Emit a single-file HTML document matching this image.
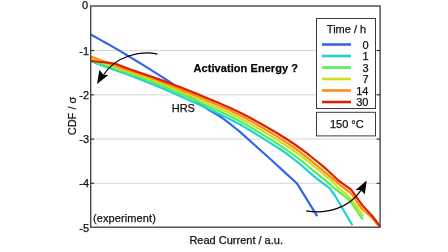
<!DOCTYPE html>
<html><head><meta charset="utf-8"><title>CDF</title>
<style>
html,body{margin:0;padding:0;background:#fff;width:448px;height:252px;overflow:hidden}
svg text{font-family:"Liberation Sans",sans-serif;fill:#111;stroke:#111;stroke-width:0.25px}
.t{font-size:11px}
.b{font-size:11px;font-weight:bold;fill:#000}
</style></head><body>
<svg width="448" height="252" viewBox="0 0 448 252" style="position:absolute;left:0;top:0">
<rect width="448" height="252" fill="#fff"/>
<line x1="90.7" y1="50.59" x2="380.1" y2="50.59" stroke="#d6d6d6" stroke-width="1"/>
<line x1="90.7" y1="94.83" x2="380.1" y2="94.83" stroke="#d6d6d6" stroke-width="1"/>
<line x1="90.7" y1="139.07" x2="380.1" y2="139.07" stroke="#d6d6d6" stroke-width="1"/>
<line x1="90.7" y1="183.31" x2="380.1" y2="183.31" stroke="#d6d6d6" stroke-width="1"/>
<clipPath id="c"><rect x="90.7" y="6.0" width="289.40000000000003" height="221.2"/></clipPath>
<g clip-path="url(#c)" fill="none" stroke-width="2.2" stroke-linejoin="round" stroke-linecap="butt">
<path d="M90.60,34.53 L95.75,37.34 L100.90,40.16 L106.06,43.00 L111.21,45.86 L116.36,48.87 L121.51,51.92 L126.66,55.01 L131.81,58.11 L136.97,61.25 L142.12,64.42 L147.27,67.62 L152.42,70.85 L157.57,74.12 L162.72,77.43 L167.88,80.77 L173.03,84.20 L178.18,87.87 L183.33,91.57 L188.48,95.33 L193.63,99.13 L198.79,102.79 L203.94,106.42 L209.09,110.10 L214.24,113.03 L219.39,116.01 L224.54,119.68 L229.70,123.68 L234.85,127.75 L240.00,131.88 L256.00,146.20 L270.00,158.80 L284.00,171.60 L296.80,183.20 L317.20,216.20" stroke="#3366ee"/>
<path d="M90.60,61.00 L97.34,63.63 L104.08,66.28 L110.81,68.65 L117.55,70.94 L124.29,73.33 L131.03,75.83 L137.77,78.39 L144.50,81.00 L151.24,83.68 L157.98,86.45 L164.72,89.30 L171.46,92.23 L178.19,95.25 L184.93,98.18 L191.67,101.14 L198.41,104.21 L205.14,107.38 L211.88,110.58 L218.62,113.67 L225.36,116.88 L232.10,120.22 L238.83,123.70 L245.57,127.63 L252.31,131.77 L259.05,135.90 L265.79,140.08 L272.52,144.35 L279.26,148.65 L286.00,153.13 L300.00,164.00 L314.00,176.30 L329.80,188.40 L335.20,196.00 L352.40,225.20" stroke="#1cd0da"/>
<path d="M90.60,60.41 L98.72,63.25 L106.83,66.08 L114.95,68.72 L123.07,71.42 L131.19,74.21 L139.30,77.07 L147.42,80.01 L155.54,83.17 L163.66,86.53 L171.77,89.99 L179.89,93.58 L188.01,97.07 L196.12,100.70 L204.24,104.48 L212.36,108.26 L220.48,111.81 L228.59,115.54 L236.71,119.46 L244.83,123.90 L252.94,128.76 L261.06,133.60 L269.18,138.60 L277.30,143.77 L285.41,149.20 L293.53,154.89 L301.65,160.96 L309.77,167.74 L317.88,174.44 L326.00,180.80 L334.00,187.80 L340.40,193.10 L346.00,197.20 L350.20,201.00 L362.80,219.50" stroke="#55ee55"/>
<path d="M90.60,58.31 L98.72,61.15 L106.83,63.98 L114.95,67.00 L123.07,69.93 L131.19,72.63 L139.30,75.35 L147.42,78.12 L155.54,81.16 L163.66,84.43 L171.77,87.79 L179.89,91.24 L188.01,94.62 L196.12,98.13 L204.24,101.76 L212.36,105.41 L220.48,108.89 L228.59,112.55 L236.71,116.39 L244.83,120.68 L252.94,125.35 L261.06,130.04 L269.18,134.90 L277.30,139.85 L285.41,145.05 L293.53,150.53 L301.65,156.39 L309.77,162.88 L317.88,169.52 L326.00,176.18 L331.90,181.00 L338.30,187.80 L344.70,193.10 L349.00,196.90 L352.30,200.70 L363.40,216.00" stroke="#c8e020"/>
<path d="M90.60,56.58 L98.72,59.54 L106.83,62.46 L114.95,65.54 L123.07,68.50 L131.19,71.17 L139.30,73.85 L147.42,76.54 L155.54,79.48 L163.66,82.62 L171.77,85.84 L179.89,89.13 L188.01,92.38 L196.12,95.73 L204.24,99.21 L212.36,102.74 L220.48,106.20 L228.59,109.83 L236.71,113.64 L244.83,117.85 L252.94,122.41 L261.06,127.00 L269.18,131.77 L277.30,136.66 L285.41,141.80 L293.53,147.24 L301.65,153.08 L309.77,159.64 L317.88,166.34 L326.00,173.04 L335.40,180.80 L341.10,186.00 L350.20,192.60 L352.60,195.50 L357.60,203.00 L361.80,208.80 L371.20,216.80 L379.60,227.00" stroke="#ff8c1a"/>
<path d="M90.60,60.80 L98.00,61.75 L108.00,62.60 L116.00,64.04 L123.31,66.87 L130.62,69.42 L137.93,71.94 L145.24,74.44 L152.55,76.96 L159.86,79.61 L167.17,82.28 L174.48,84.99 L181.79,87.76 L189.10,90.66 L196.41,93.63 L203.72,96.69 L211.03,99.81 L218.34,102.84 L225.66,105.98 L232.97,109.27 L240.28,112.71 L247.59,116.54 L254.90,120.56 L262.21,124.51 L269.52,128.67 L276.83,132.97 L284.14,137.50 L291.45,142.26 L298.76,147.27 L306.07,152.73 L313.38,158.51 L320.69,164.47 L328.00,170.69 L339.00,181.00 L345.50,185.60 L351.10,189.60 L358.60,200.20 L362.50,205.50 L372.00,215.80 L380.20,226.30" stroke="#dd2200"/>
</g>
<rect x="90.7" y="6.0" width="289.40000000000003" height="221.2" fill="none" stroke="#484848" stroke-width="1.4"/>
<line x1="90.7" y1="50.59" x2="94.2" y2="50.59" stroke="#222" stroke-width="1"/>
<line x1="380.1" y1="50.59" x2="376.6" y2="50.59" stroke="#222" stroke-width="1"/>
<line x1="90.7" y1="94.83" x2="94.2" y2="94.83" stroke="#222" stroke-width="1"/>
<line x1="380.1" y1="94.83" x2="376.6" y2="94.83" stroke="#222" stroke-width="1"/>
<line x1="90.7" y1="139.07" x2="94.2" y2="139.07" stroke="#222" stroke-width="1"/>
<line x1="380.1" y1="139.07" x2="376.6" y2="139.07" stroke="#222" stroke-width="1"/>
<line x1="90.7" y1="183.31" x2="94.2" y2="183.31" stroke="#222" stroke-width="1"/>
<line x1="380.1" y1="183.31" x2="376.6" y2="183.31" stroke="#222" stroke-width="1"/>
<rect x="316.5" y="18.5" width="59" height="90" fill="#fff" stroke="#3a3a3a" stroke-width="1"/>
<rect x="316.5" y="112.3" width="59" height="23.6" fill="#fff" stroke="#3a3a3a" stroke-width="1"/>
<line x1="322" y1="44.5" x2="351" y2="44.5" stroke="#3366ee" stroke-width="2.6"/>
<text x="368.5" y="48.5" text-anchor="end" class="t">0</text>
<line x1="322" y1="56" x2="351" y2="56" stroke="#1cd0da" stroke-width="2.6"/>
<text x="368.5" y="60" text-anchor="end" class="t">1</text>
<line x1="322" y1="67.5" x2="351" y2="67.5" stroke="#55ee55" stroke-width="2.6"/>
<text x="368.5" y="71.5" text-anchor="end" class="t">3</text>
<line x1="322" y1="79" x2="351" y2="79" stroke="#c8e020" stroke-width="2.6"/>
<text x="368.5" y="83" text-anchor="end" class="t">7</text>
<line x1="322" y1="90.5" x2="351" y2="90.5" stroke="#ff8c1a" stroke-width="2.6"/>
<text x="368.5" y="94.5" text-anchor="end" class="t">14</text>
<line x1="322" y1="102" x2="351" y2="102" stroke="#dd2200" stroke-width="2.6"/>
<text x="368.5" y="106" text-anchor="end" class="t">30</text>
<text x="346.5" y="33" text-anchor="middle" class="t">Time / h</text>
<text x="346.8" y="128" text-anchor="middle" class="t">150 °C</text>
<text x="88.1" y="9.30" text-anchor="end" class="t">0</text>
<text x="89" y="54.54" text-anchor="end" class="t">-1</text>
<text x="89" y="98.78" text-anchor="end" class="t">-2</text>
<text x="89" y="143.02" text-anchor="end" class="t">-3</text>
<text x="89" y="187.26" text-anchor="end" class="t">-4</text>
<text x="89" y="231.50" text-anchor="end" class="t">-5</text>
<text x="236.2" y="243.8" text-anchor="middle" class="t">Read Current / a.u.</text>
<text transform="translate(75.9,116) rotate(-90)" text-anchor="middle" class="t">CDF / σ</text>
<text x="193.6" y="72.1" class="b" textLength="104.4">Activation Energy ?</text>
<text x="171.7" y="111.7" class="t">HRS</text>
<text x="93" y="222.4" class="t" textLength="62.8">(experiment)</text>
<path d="M157.5,54.1 C140,50.5 116,56 103.8,74.5" fill="none" stroke="#000" stroke-width="1.25"/>
<path d="M97,84.1 L99.4,70.1 L103.5,74.8 L108.4,75.1 Z" fill="#000"/>
<path d="M306.2,210.8 C328,214.6 349,207.5 361,190.3" fill="none" stroke="#000" stroke-width="1.25"/>
<path d="M366.7,180.6 L364.8,194.3 L360.9,190.3 L355.6,189.9 Z" fill="#000"/>
</svg>
</body></html>
